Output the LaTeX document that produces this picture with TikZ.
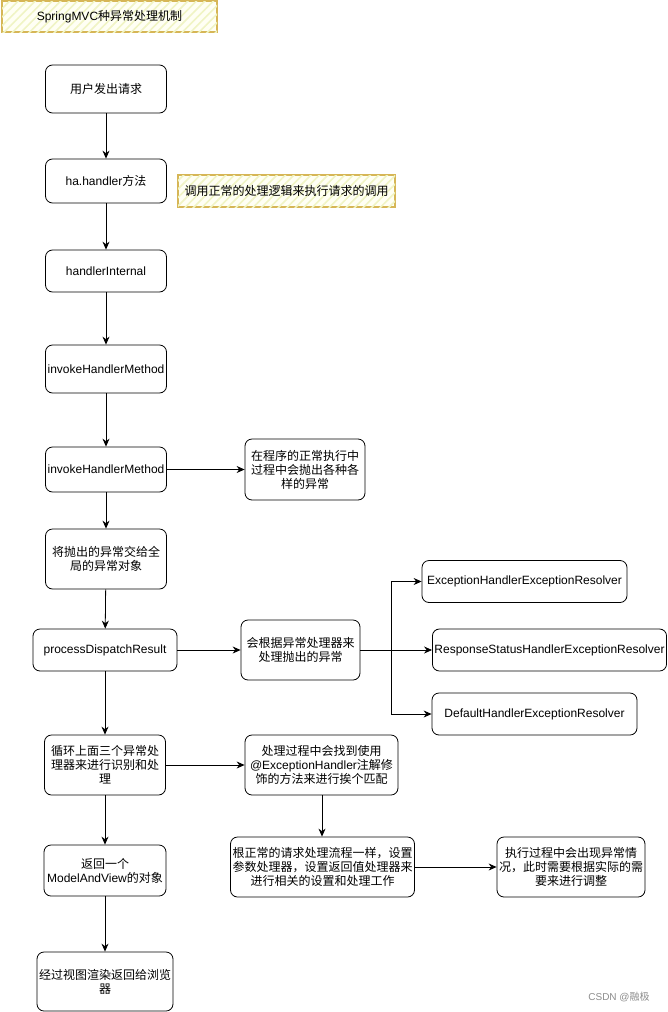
\documentclass[tikz,border=0pt]{standalone}
\usepackage{fontspec}
\setmainfont{Liberation Sans}
\newfontfamily\cjk{Noto Sans CJK SC}
\usetikzlibrary{arrows.meta,patterns.meta}
\definecolor{notefill}{HTML}{FFFFF4}
\definecolor{hatch}{HTML}{F0F4C4}
\definecolor{noteline}{HTML}{D6B656}

\begin{document}
\begin{tikzpicture}[x=1pt,y=-1pt]
\useasboundingbox (0,0) rectangle (667,1012);

\begin{scope}[every node/.style={draw,rounded corners=7pt,line width=0.8pt,align=center,inner sep=2pt,font=\fontsize{12}{14}\selectfont}]
	%main flow
	\node (B_0) at (106, 89) [minimum width=121pt, minimum height=48pt] {{\cjk 用户发出请求}};
	\node (B_1) at (106, 181) [minimum width=121pt, minimum height=44pt] {ha.handler{\cjk 方法}};
	\node (B_2) at (106, 271) [minimum width=121pt, minimum height=42pt] {handlerInternal};
	\node (B_3) at (106, 369) [minimum width=121pt, minimum height=48pt] {invokeHandlerMethod};
	\node (B_4) at (106, 469.5) [minimum width=121pt, minimum height=45pt] {invokeHandlerMethod};
	\node (B_5) at (106, 559) [minimum width=121pt, minimum height=60pt] {{\cjk 将抛出的异常交给全}\\{\cjk 局的异常对象}};
	\node (B_6) at (105, 650) [minimum width=144pt, minimum height=42pt] {processDispatchResult};
	\node (B_7) at (105, 765) [minimum width=121pt, minimum height=60pt] {{\cjk 循环上面三个异常处}\\{\cjk 理器来进行识别和处}\\{\cjk 理}};
	\node (B_8) at (105, 870.5) [minimum width=122pt, minimum height=51pt] {{\cjk 返回一个}\\ModelAndView{\cjk 的对象}};
	\node (B_9) at (105, 981.5) [minimum width=136pt, minimum height=59pt] {{\cjk 经过视图渲染返回给浏览}\\{\cjk 器}};

	%side branches
	\node (N_4) at (305, 469.5) [minimum width=120pt, minimum height=61pt] {{\cjk 在程序的正常执行中}\\{\cjk 过程中会抛出各种各}\\{\cjk 样的异常}};
	\node (N_6) at (300.5, 650) [minimum width=119pt, minimum height=60pt] {{\cjk 会根据异常处理器来}\\{\cjk 处理抛出的异常}};
	\node (N_7) at (321.5, 765) [minimum width=153pt, minimum height=60pt] {{\cjk 处理过程中会找到使用}\\@ExceptionHandler{\cjk 注解修}\\{\cjk 饰的方法来进行挨个匹配}};
	\node (N_8) at (322.5, 867) [minimum width=181pt, minimum height=60pt] {{\cjk 根正常的请求处理流程一样，设置}\\{\cjk 参数处理器，设置返回值处理器来}\\{\cjk 进行相关的设置和处理工作}};
	\node (N_9) at (571, 867) [minimum width=148pt, minimum height=60pt] {{\cjk 执行过程中会出现异常情}\\{\cjk 况，此时需要根据实际的需}\\{\cjk 要来进行调整}};

	%resolvers
	\node (R_1) at (524.5, 581.5) [minimum width=205pt, minimum height=42pt] {ExceptionHandlerExceptionResolver};
	\node (R_2) at (549.5, 650) [minimum width=234pt, minimum height=42pt] {ResponseStatusHandlerExceptionResolver};
	\node (R_3) at (534.5, 714) [minimum width=205pt, minimum height=42pt] {DefaultHandlerExceptionResolver};
\end{scope}

\begin{scope}[every node/.style={draw=noteline,line width=1.2pt,fill=notefill,postaction={pattern={Lines[angle=45,distance=6pt,line width=1.6pt]},pattern color=hatch},inner sep=2pt,font=\fontsize{12}{14}\selectfont}]
	%notes
	\node (T_0) at (109.5, 16.5) [minimum width=215pt, minimum height=31pt] {SpringMVC{\cjk 种异常处理机制}};
	\node (T_1) at (286.5, 191) [minimum width=217pt, minimum height=32pt] {{\cjk 调用正常的处理逻辑来执行请求的调用}};
\end{scope}

\node (W_0) at (619, 997) [text=black!45, font=\fontsize{10}{12}\selectfont] {CSDN @{\cjk 融极}};

\coordinate (split) at (391, 650);

\begin{scope}[line width=0.8pt, -{Stealth[length=8pt,width=7pt]}]
	%main flow
	\path (B_0) edge (B_1);
	\path (B_1) edge (B_2);
	\path (B_2) edge (B_3);
	\path (B_3) edge (B_4);
	\path (B_4) edge (B_5);
	\path (B_5) edge (B_6);
	\path (B_6) edge (B_7);
	\path (B_7) edge (B_8);
	\path (B_8) edge (B_9);

	%side branches
	\path (B_4) edge (N_4);
	\path (B_6) edge (N_6);
	\path (B_7) edge (N_7);
	\path (N_7.south -| 322, 0) edge (N_8.north -| 322, 0);
	\path (N_8) edge (N_9);

	%resolvers
	\draw [-] (N_6.east) -- (split);
	\draw (split) |- (R_1.west);
	\draw (split) -- (R_2.west);
	\draw (split) |- (R_3.west);
\end{scope}
\end{tikzpicture}
\end{document}
